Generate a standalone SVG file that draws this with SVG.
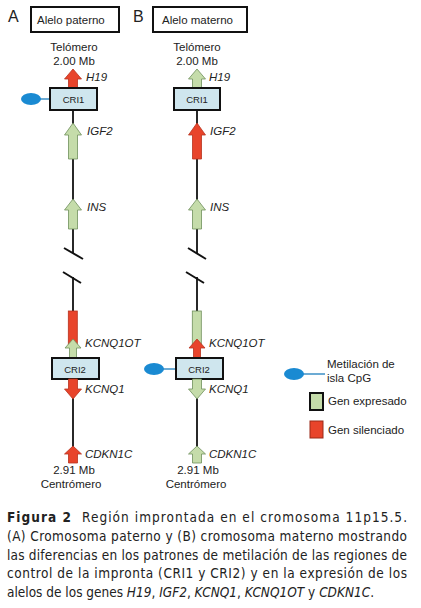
<svg xmlns="http://www.w3.org/2000/svg" width="421" height="608" viewBox="0 0 421 608">
<style>
text{font-family:"Liberation Sans",Arial,sans-serif;fill:#222}
.t{font-size:11.5px}
.g{font-size:11.5px;font-style:italic}
.c{font-size:9.5px;text-anchor:middle}
.m{text-anchor:middle}
.exp{fill:#c5dcaa;stroke:#6f8f5c;stroke-width:0.8}
.sil{fill:#e8442b;stroke:#b8321e;stroke-width:0.8}
.box{fill:#cfe6ee;stroke:#111;stroke-width:2}
.hdr{fill:#fff;stroke:#111;stroke-width:2}
.chr{stroke:#111;stroke-width:1.8;fill:none}
.brk{stroke:#111;stroke-width:2;fill:none}
.mline{stroke:#3b8fc6;stroke-width:1.5}
.meth{fill:#1a8ad2}
.cap{font-family:"DejaVu Sans Condensed","DejaVu Sans",sans-serif;font-size:13.5px;fill:#222}
</style>

<g id="connectors">
<line class="chr" x1="73" y1="110" x2="73" y2="253"/>
<line class="chr" x1="73" y1="277" x2="73" y2="462"/>
<line class="chr" x1="197" y1="110" x2="197" y2="253"/>
<line class="chr" x1="197" y1="277" x2="197" y2="462"/>
<line class="brk" x1="64" y1="248" x2="83" y2="259"/>
<line class="brk" x1="63" y1="272" x2="81" y2="283"/>
<line class="brk" x1="188" y1="248" x2="206" y2="259"/>
<line class="brk" x1="186" y1="272" x2="204" y2="283"/>
<line class="mline" x1="40" y1="99" x2="50" y2="99"/>
<line class="mline" x1="163" y1="369" x2="176" y2="369"/>
<line class="mline" x1="303" y1="374" x2="325" y2="374"/>
</g>

<g id="headerA">
<text x="8" y="22" style="font-size:16px">A</text>
<rect class="hdr" x="31" y="7" width="88" height="25"/>
<text class="t" x="37" y="23.5">Alelo paterno</text>
</g>
<g id="headerB">
<text x="133" y="22" style="font-size:16px">B</text>
<rect class="hdr" x="153" y="7" width="94" height="25"/>
<text class="t" x="162" y="23.5">Alelo materno</text>
</g>

<g id="telA">
<text class="t m" x="74" y="51">Telómero</text>
<text class="t m" x="74" y="65">2.00 Mb</text>
</g>
<g id="telB">
<text class="t m" x="197" y="51">Telómero</text>
<text class="t m" x="197" y="65">2.00 Mb</text>
</g>

<g id="H19A"><path class="sil" d="M73,69 L81.5,79 L77.5,79 L77.5,88 L68.5,88 L68.5,79 L64.5,79 Z"/><text class="g" x="86" y="81">H19</text></g>
<g id="H19B"><path class="exp" d="M197,69 L205.5,79 L201.5,79 L201.5,88 L192.5,88 L192.5,79 L188.5,79 Z"/><text class="g" x="209" y="81">H19</text></g>

<g id="CRI1A"><rect class="box" x="50" y="88" width="47" height="22"/><text class="c" x="73.5" y="102.5">CRI1</text></g>
<g id="CRI1B"><rect class="box" x="174" y="88" width="46" height="22"/><text class="c" x="197" y="102.5">CRI1</text></g>
<g id="methA1"><ellipse class="meth" cx="31" cy="99" rx="10" ry="6"/></g>

<g id="IGF2A"><path class="exp" d="M73,123 L81.5,135 L77.5,135 L77.5,159 L68.5,159 L68.5,135 L64.5,135 Z"/><text class="g" x="87" y="135">IGF2</text></g>
<g id="IGF2B"><path class="sil" d="M197,123 L205.5,135 L201.5,135 L201.5,159 L192.5,159 L192.5,135 L188.5,135 Z"/><text class="g" x="210" y="135">IGF2</text></g>

<g id="INSA"><path class="exp" d="M73,199 L81.5,210 L77.5,210 L77.5,229 L68.5,229 L68.5,210 L64.5,210 Z"/><text class="g" x="87" y="211">INS</text></g>
<g id="INSB"><path class="exp" d="M197,199 L205.5,210 L201.5,210 L201.5,229 L192.5,229 L192.5,210 L188.5,210 Z"/><text class="g" x="210" y="211">INS</text></g>

<g id="KCNQ1OTA">
<rect class="sil" x="68.3" y="311" width="9" height="34"/>
<path class="exp" d="M73,339 L81,348 L76.5,348 L76.5,358 L69.5,358 L69.5,348 L65,348 Z"/>
<text class="g" x="85" y="347">KCNQ1OT</text>
</g>
<g id="KCNQ1OTB">
<rect class="exp" x="192.3" y="311" width="9" height="34"/>
<path class="sil" d="M197,339 L205,348 L200.5,348 L200.5,358 L193.5,358 L193.5,348 L189,348 Z"/>
<text class="g" x="209" y="347">KCNQ1OT</text>
</g>

<g id="CRI2A"><rect class="box" x="52" y="358" width="47" height="21"/><text class="c" x="75" y="372.5">CRI2</text></g>
<g id="CRI2B"><rect class="box" x="176" y="358" width="47" height="21"/><text class="c" x="199" y="372.5">CRI2</text></g>
<g id="methB2"><ellipse class="meth" cx="154" cy="369" rx="10" ry="6"/></g>

<g id="KCNQ1A"><path class="sil" d="M73,399 L81.5,389 L77.5,389 L77.5,379 L68.5,379 L68.5,389 L64.5,389 Z"/><text class="g" x="85" y="393">KCNQ1</text></g>
<g id="KCNQ1B"><path class="exp" d="M197,399 L205.5,389 L201.5,389 L201.5,379 L192.5,379 L192.5,389 L188.5,389 Z"/><text class="g" x="209" y="393">KCNQ1</text></g>

<g id="CDKN1CA"><path class="sil" d="M73,446 L81.5,454 L77.5,454 L77.5,463 L68.5,463 L68.5,454 L64.5,454 Z"/><text class="g" x="85" y="458">CDKN1C</text></g>
<g id="CDKN1CB"><path class="exp" d="M197,446 L205.5,454 L201.5,454 L201.5,463 L192.5,463 L192.5,454 L188.5,454 Z"/><text class="g" x="209" y="458">CDKN1C</text></g>

<g id="cenA">
<text class="t m" x="74" y="474">2.91 Mb</text>
<text class="t m" x="71" y="488">Centrómero</text>
</g>
<g id="cenB">
<text class="t m" x="198" y="474">2.91 Mb</text>
<text class="t m" x="196" y="488">Centrómero</text>
</g>

<g id="legend">
<ellipse class="meth" cx="294" cy="374" rx="10" ry="6"/>
<text class="t" x="327" y="368">Metilación de</text>
<text class="t" x="327" y="382">isla CpG</text>
<rect x="310" y="393" width="13" height="17" fill="#c5dcaa" stroke="#111" stroke-width="2"/>
<text class="t" x="328" y="405">Gen expresado</text>
<rect x="310" y="421" width="13" height="17" fill="#e8442b" stroke="#9a2a18" stroke-width="1"/>
<text class="t" x="328" y="434">Gen silenciado</text>
</g>

<g id="caption">
<text class="cap" x="7" y="522" textLength="400" lengthAdjust="spacing"><tspan font-weight="bold">Figura 2</tspan><tspan dx="10">Región improntada en el cromosoma 11p15.5.</tspan></text>
<text class="cap" x="7" y="541" textLength="400" lengthAdjust="spacing">(A) Cromosoma paterno y (B) cromosoma materno mostrando</text>
<text class="cap" x="7" y="559.5" textLength="400" lengthAdjust="spacing">las diferencias en los patrones de metilación de las regiones de</text>
<text class="cap" x="7" y="578" textLength="400" lengthAdjust="spacing">control de la impronta (CRI1 y CRI2) y en la expresión de los</text>
<text class="cap" x="7" y="597">alelos de los genes <tspan font-style="italic">H19</tspan>, <tspan font-style="italic">IGF2</tspan>, <tspan font-style="italic">KCNQ1</tspan>, <tspan font-style="italic">KCNQ1OT</tspan> y <tspan font-style="italic">CDKN1C</tspan>.</text>
</g>
</svg>
